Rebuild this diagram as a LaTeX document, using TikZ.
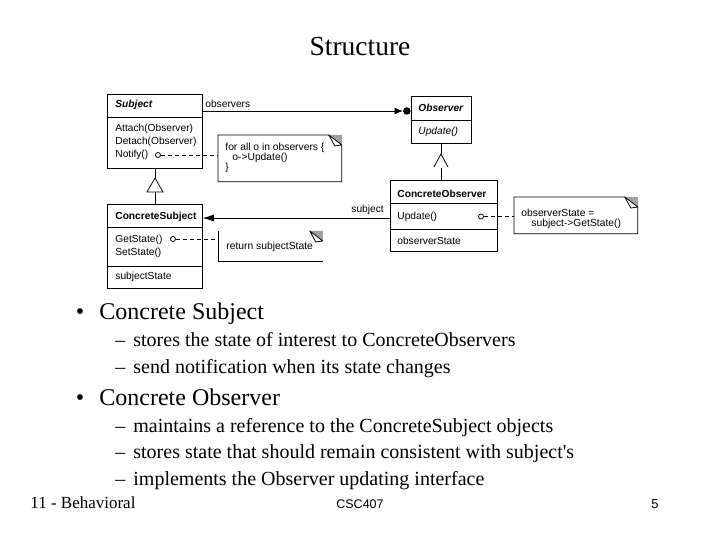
\documentclass[tikz,border=0pt]{standalone}
\usepackage{fontspec}
\setmainfont{Liberation Serif}[Ligatures=TeXOff]
\newfontfamily\umlfont{Liberation Sans}
\usetikzlibrary{arrows.meta,calc}
\definecolor{eargray}{RGB}{160,160,160}
\newcommand\umlnoteear[1]{%
  \fill[eargray] ($(#1.north east)+(-13,0)$) -- (#1.north east) -- ($(#1.north east)+(0,10)$) -- cycle;
  \draw[fill=white,line join=round] ($(#1.north east)+(-13,0)$) -- ($(#1.north east)+(-7,11)$) -- ($(#1.north east)+(0,10)$) -- cycle;
}
\newcommand\umlnoteframe[1]{%
  \draw (#1.north west) -- ($(#1.north east)+(-13,0)$) -- ($(#1.north east)+(0,10)$) -- (#1.south east) -- (#1.south west) -- cycle;
  \umlnoteear{#1}
}
\begin{document}
\begin{tikzpicture}[x=1pt,y=-1pt,line width=0.8pt,
  box/.style={draw,anchor=north west,inner sep=0pt},
  notebox/.style={anchor=north west,inner sep=0pt},
  uml/.style={font=\umlfont\fontsize{10.2}{12}\selectfont,anchor=base west,inner sep=0pt},
  umlnote/.style={font=\umlfont\fontsize{10.3}{11}\selectfont,anchor=base west,inner sep=0pt},
  pin/.style={circle,draw,fill=white,inner sep=0pt,minimum size=5pt},
  dashline/.style={dash pattern=on 4pt off 3pt},
  big/.style={font=\fontsize{24}{28}\selectfont,anchor=base west,inner sep=0pt},
  small/.style={font=\fontsize{20}{24}\selectfont,anchor=base west,inner sep=0pt}]
\useasboundingbox (0,0) rectangle (720,540);

% title
\node[font=\fontsize{27.5}{32}\selectfont,anchor=base,inner sep=0pt] (title) at (360,56) {Structure};

% boxes
\node[box,minimum width=95pt,minimum height=74pt] (subject) at (107,94) {};
\node[box,minimum width=60pt,minimum height=47pt] (observer) at (411,96) {};
\node[box,minimum width=95pt,minimum height=84pt] (csubject) at (107,204) {};
\node[box,minimum width=107pt,minimum height=71pt] (cobserver) at (390,180) {};

% compartments
\coordinate (sd1) at (0,117);
\draw (subject.west |- sd1) -- (subject.east |- sd1);
\coordinate (od1) at (0,120);
\draw (observer.west |- od1) -- (observer.east |- od1);
\coordinate (csd1) at (0,227);
\coordinate (csd2) at (0,266);
\draw (csubject.west |- csd1) -- (csubject.east |- csd1);
\draw (csubject.west |- csd2) -- (csubject.east |- csd2);
\coordinate (cod1) at (0,203);
\coordinate (cod2) at (0,229);
\draw (cobserver.west |- cod1) -- (cobserver.east |- cod1);
\draw (cobserver.west |- cod2) -- (cobserver.east |- cod2);

% class texts
\node[uml,font=\umlfont\bfseries\itshape\fontsize{10.2}{12}\selectfont] (tsub) at (115,108) {Subject};
\node[uml] (tattach) at (115,131.5) {Attach(Observer)};
\node[uml] (tdetach) at (115,144.5) {Detach(Observer)};
\node[uml] (tnotify) at (115,157.5) {Notify()};

\node[uml,font=\umlfont\bfseries\itshape\fontsize{10.2}{12}\selectfont] (tobs) at (418,112) {Observer};
\node[uml,font=\umlfont\itshape\fontsize{10.2}{12}\selectfont] (tupd) at (418,135) {Update()};

\node[uml,font=\umlfont\bfseries\fontsize{10.2}{12}\selectfont] (tcs) at (115,219) {ConcreteSubject};
\node[uml] (tget) at (115,242.5) {GetState()};
\node[uml] (tset) at (115,255) {SetState()};
\node[uml] (tss) at (115,279.5) {subjectState};

\node[uml,font=\umlfont\bfseries\fontsize{10.2}{12}\selectfont] (tco) at (397,197) {ConcreteObserver};
\node[uml] (tcupd) at (397,220) {Update()};
\node[uml] (tos) at (397,244) {observerState};

% notes
\node[notebox,minimum width=123pt,minimum height=46pt] (note1) at (218,135) {};
\umlnoteframe{note1}
\node[umlnote] (n1a) at (225,150.5) {for all o in observers \{};
\node[umlnote] (n1b) at (232,160.5) {o->Update()};
\node[umlnote] (n1c) at (225,171) {\}};

\node[notebox,minimum width=104pt,minimum height=30pt] (note2) at (218,231) {};
\draw (note2.north west) -- (note2.south west) -- (note2.south east);
\umlnoteear{note2}
\node[umlnote] (n2a) at (226,249.5) {return subjectState};

\node[notebox,minimum width=123pt,minimum height=36pt] (note3) at (514,197) {};
\umlnoteframe{note3}
\node[umlnote] (n3a) at (521,217) {observerState =};
\node[umlnote] (n3b) at (531,226.5) {subject->GetState()};

% pins and dashed links
\node[pin] (p1) at (158,155) {};
\draw[dashline] (p1.east) -- (note1.west |- p1);
\node[pin] (p2) at (173,239) {};
\draw[dashline] (p2.east) -- (note2.west |- p2);
\node[pin] (p3) at (481,216.5) {};
\draw[dashline] (p3.east) -- (note3.west |- p3);

% observers association
\coordinate (obsY) at (0,111);
\node[circle,fill,inner sep=0pt,minimum size=7.5pt,anchor=east] (dot) at (observer.west |- obsY) {};
\draw[-{Latex[length=8pt,width=7pt]}] (subject.east |- obsY) -- (dot.west);
\node[uml] (lobs) at (205,107.5) {observers};

% subject association
\coordinate (subjY) at (0,218);
\draw[-{Latex[length=11pt,width=7pt]}] (cobserver.west |- subjY) -- (csubject.east |- subjY);
\node[uml] (lsubj) at (351,212.5) {subject};

% generalization Subject <- ConcreteSubject
\coordinate (g1) at (155,178);
\coordinate (g1b) at (155,192);
\draw (subject.south -| g1) -- (g1);
\draw[line join=miter] (g1) -- ++(-8,14) -- ++(16,0) -- cycle;
\draw (g1b) -- (csubject.north -| g1);

% generalization Observer <- ConcreteObserver
\coordinate (g2) at (441,154);
\coordinate (g2b) at (441,168);
\draw (observer.south -| g2) -- (g2);
\draw (g2) ++(-7,13) -- (g2) -- ++(7,13);
\draw (g2b) -- (cobserver.north -| g2);

% bullets
\node[font=\fontsize{24}{28}\selectfont,anchor=base,inner sep=0pt] (bul1) at (80,319) {\textbullet};
\node[big] (h1) at (99,319) {Concrete Subject};
\node[small] (d1) at (115,346) {\textendash};
\node[small] (s1) at (133,346) {stores the state of interest to ConcreteObservers};
\node[small] (d2) at (115,373) {\textendash};
\node[small] (s2) at (133,373) {send notification when its state changes};

\node[font=\fontsize{24}{28}\selectfont,anchor=base,inner sep=0pt] (bul2) at (80,405) {\textbullet};
\node[big] (h2) at (99,405) {Concrete Observer};
\node[small] (d3) at (115,432) {\textendash};
\node[small] (s3) at (133,432) {maintains a reference to the ConcreteSubject objects};
\node[small] (d4) at (115,458) {\textendash};
\node[small] (s4) at (133,458) {stores state that should remain consistent with subject's};
\node[small] (d5) at (115,485) {\textendash};
\node[small] (s5) at (133,485) {implements the Observer updating interface};

% footer
\node[font=\fontsize{17}{19}\selectfont,anchor=base west,inner sep=0pt] (f1) at (30,508) {11 - Behavioral};
\node[font=\umlfont\fontsize{12.5}{14}\selectfont,anchor=base,inner sep=0pt] (f2) at (360,508) {CSC407};
\node[font=\umlfont\fontsize{13}{14}\selectfont,anchor=base,inner sep=0pt] (f3) at (655,508) {5};
\end{tikzpicture}
\end{document}
